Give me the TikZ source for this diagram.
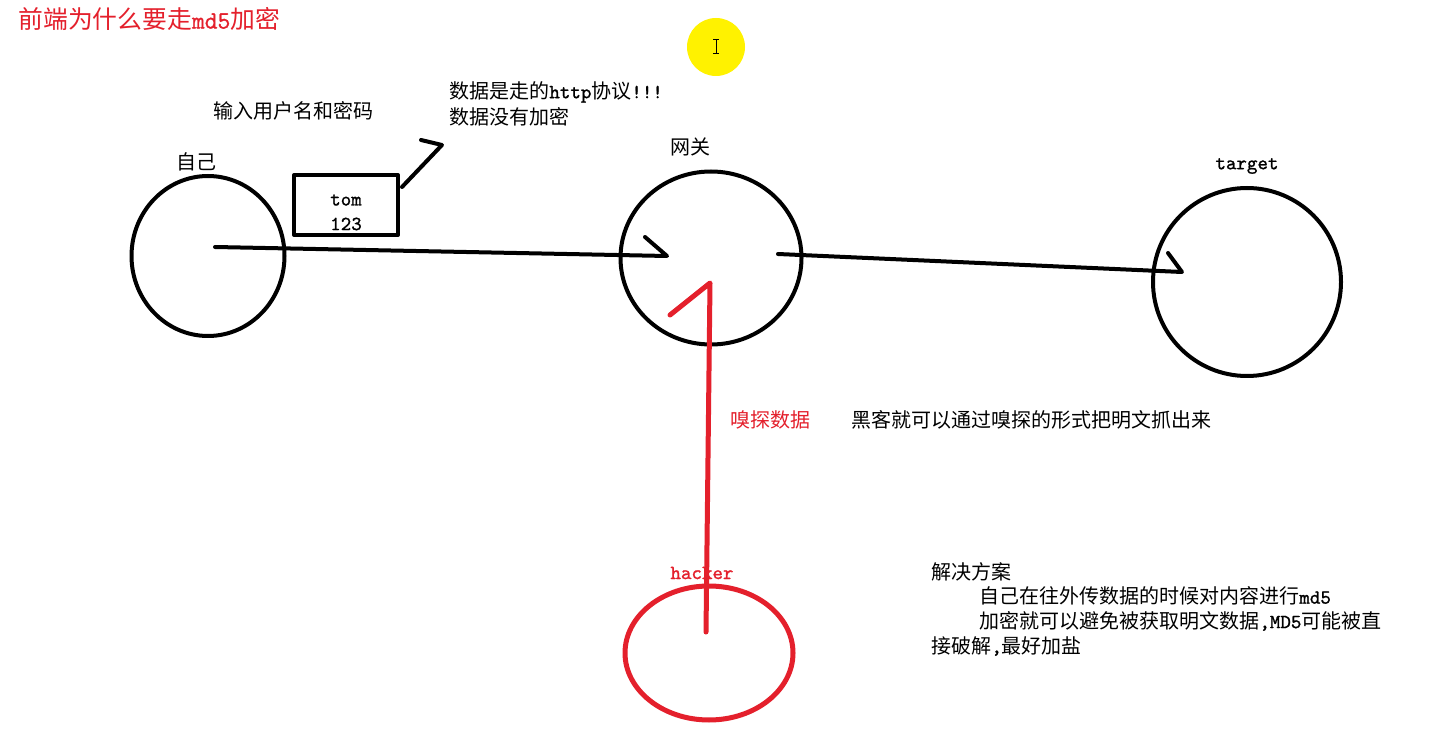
\documentclass[tikz,border=0pt]{standalone}
\usepackage{fontspec}
\setmainfont{Noto Sans CJK SC}
\setmonofont{Latin Modern Mono}[FakeBold=1.2]
\usetikzlibrary{shapes.geometric}
\definecolor{pen}{RGB}{228,32,44}

\tikzset{
	txt/.style={inner sep=0pt, font=\fontsize{10pt}{12.5pt}\selectfont},
	blob/.style={draw, ellipse, line width=2pt, inner sep=0pt},
}

\begin{document}
\begin{tikzpicture}[x=0.5pt, y=-0.5pt, line join=round, line cap=round]
	\useasboundingbox[fill=white] (0,0) rectangle (1441,732);
	% cursor highlight
	\fill[yellow] (716,47) circle (29);
	\draw[line width=0.5pt, line cap=butt] (716,40) -- (716,54) (713,40) -- (719,40) (713,54) -- (719,54);

	\node[txt, anchor=west, text=pen, font=\fontsize{12.4pt}{15pt}\selectfont] (title) at (18,19) {前端为什么要走{\ttfamily md5}加密};

	% the four hosts
	\node[blob, minimum width=76.5pt, minimum height=80pt] (me) at (208,256) {};
	\node[blob, minimum width=90.5pt, minimum height=86.5pt] (gw) at (711,258) {};
	\node[blob, minimum width=94pt, minimum height=94pt] (tgt) at (1247,282) {};
	\node[blob, draw=pen, line width=2.5pt, minimum width=84pt, minimum height=67pt] (hk) at (709,653) {};

	\node[txt] (mel) at (196,162) {自己};
	\node[txt] (gwl) at (690,147) {网关};
	\node[txt, font=\ttfamily] (tgtl) at (1247,166) {target};
	\node[txt, text=pen, font=\ttfamily] (hkl) at (702,573) {hacker};

	% user name / password box
	\node[draw, line width=2pt, minimum width=52pt, minimum height=30pt, inner sep=0pt] (box) at (346,205) {};
	\node[txt, font=\ttfamily] (usr) at (346,200) {tom};
	\node[txt, font=\ttfamily] (pwd) at (346,224) {123};
	\node[txt] (ask) at (293,111) {输入用户名和密码};
	\node[txt, anchor=west] (n1) at (449,92) {数据是走的{\ttfamily http}协议{\ttfamily !!!}};
	\node[txt, anchor=west] (n2) at (449,117) {数据没有加密};
	\coordinate (c1) at (402,187);
	\coordinate (c2) at (442,145);
	\coordinate (c3) at (421,140);
	\draw[line width=2pt] (c1) -- (c2) -- (c3);

	% traffic
	\coordinate (s1) at (215,247);
	\coordinate (e1) at (667,256);
	\coordinate (s2) at (778,254);
	\coordinate (e2) at (1182,272);
	\draw[line width=2pt] (s1) -- (e1) -- ++(-22,-19);
	\draw[line width=2pt] (s2) -- (e2) -- ++(-14,-19);

	% sniffing
	\coordinate (h1) at (706,632);
	\coordinate (h2) at (710,283);
	\draw[pen, line width=2.5pt] (h1) -- (h2) -- ++(-40,32);
	\node[txt, anchor=west, text=pen] (sniff) at (730,420) {嗅探数据};
	\node[txt, anchor=west] (why) at (851,420) {黑客就可以通过嗅探的形式把明文抓出来};

	% solution
	\foreach \i/\x/\y/\t in {1/931/572/{解决方案},
			2/979/596/{自己在往外传数据的时候对内容进行{\ttfamily md5}},
			3/979/621/{加密就可以避免被获取明文数据{\ttfamily ,MD5}可能被直},
			4/931/646/{接破解{\ttfamily ,}最好加盐}}
		\node[txt, anchor=west] (fix\i) at (\x,\y) {\t};
\end{tikzpicture}
\end{document}
